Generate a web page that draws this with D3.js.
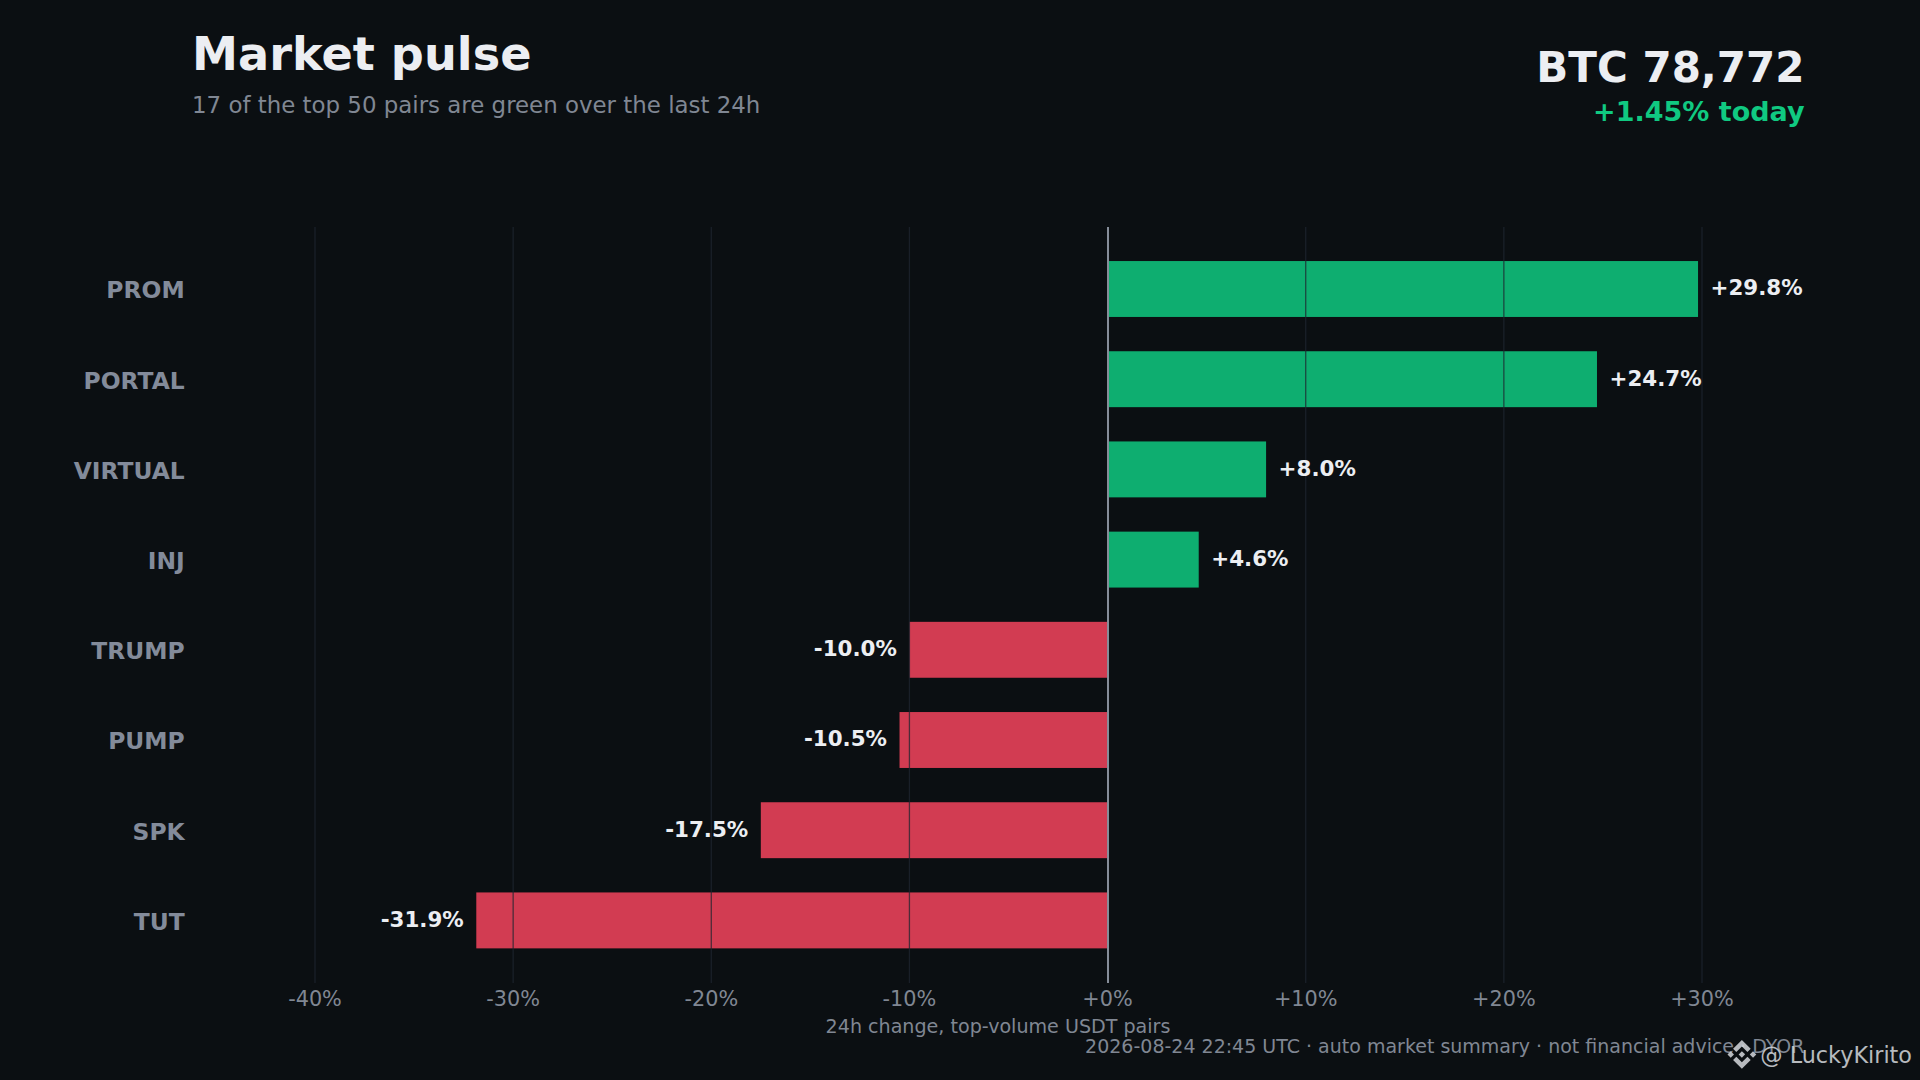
<!DOCTYPE html>
<html><head><meta charset="utf-8">
<script src="https://cdn.jsdelivr.net/npm/d3@7/dist/d3.min.js"></script>
<style>
html,body{margin:0;padding:0;background:#0b0f12;overflow:hidden}
svg{display:block}
text{font-family:"DejaVu Sans",sans-serif}
</style></head><body><svg id="c" width="1920" height="1080"></svg>
<script>
const symbols=["PROM","PORTAL","VIRTUAL","INJ","TRUMP","PUMP","SPK","TUT"];
const changes=[29.8,24.7,8.0,4.6,-10.0,-10.5,-17.5,-31.86];
const tickValues=[-40,-30,-20,-10,0,10,20,30];
const titleText="Market pulse";
const subtitleText="17 of the top 50 pairs are green over the last 24h";
const priceText="BTC 78,772";
const dayText="+1.45% today";
const axisTitle="24h change, top-volume USDT pairs";
const footerText="2026-08-24 22:45 UTC · auto market summary · not financial advice · DYOR";
const watermark="@ LuckyKirito";

const UP="#0eae70",DOWN="#d23c52",BG="#0b0f12",MUTED="#808793";
const svg=d3.select("#c");
svg.append("rect").attr("width",1920).attr("height",1080).attr("fill",BG);
const x=d3.scaleLinear().domain([-40,30]).range([315,1702]);
const y=d3.scaleBand().domain(symbols).range([243.9,965.5]).paddingInner(0.38).paddingOuter(0.19);
const gridTop=227,gridBottom=983;

svg.append("g").selectAll("rect").data(changes).join("rect")
  .attr("x",d=>Math.min(x(0),x(d))).attr("width",d=>Math.abs(x(d)-x(0)))
  .attr("y",(d,i)=>y(symbols[i])).attr("height",y.bandwidth())
  .attr("fill",d=>d>=0?UP:DOWN);

const fmt=d=>(d>=0?"+":"")+d+"%";
const ax=svg.append("g").attr("transform",`translate(0,${gridBottom})`)
  .call(d3.axisBottom(x).offset(0).tickValues(tickValues).tickFormat(fmt).tickSize(0).tickPadding(8));
ax.select(".domain").remove();
ax.selectAll("text").attr("fill",MUTED).attr("font-size",20.8).attr("dy","0.71em");
svg.append("g").selectAll("line").data(tickValues.filter(d=>d!==0)).join("line")
  .attr("x1",d=>x(d)).attr("x2",d=>x(d)).attr("y1",gridTop).attr("y2",gridBottom)
  .attr("stroke","#1f2630").attr("stroke-opacity",0.75).attr("stroke-width",1.3);
svg.append("line").attr("x1",Math.round(x(0))).attr("x2",Math.round(x(0))).attr("y1",gridTop).attr("y2",gridBottom)
  .attr("stroke","#868d99").attr("stroke-width",2);

const ay=svg.append("g").attr("transform","translate(184.7,0)")
  .call(d3.axisLeft(y).offset(0).tickSize(0).tickPadding(0));
ay.select(".domain").remove();
ay.selectAll("text").attr("fill","#838b9a").attr("font-size",23.4).attr("font-weight",700).attr("dy","0.4em");

svg.append("g").selectAll("text").data(changes).join("text")
  .attr("x",d=>x(d)+(d>=0?12.5:-12.5))
  .attr("y",(d,i)=>y(symbols[i])+y.bandwidth()/2-1.5)
  .attr("dy","0.37em")
  .attr("text-anchor",d=>d>=0?"start":"end")
  .attr("font-size",21.4).attr("font-weight",700).attr("fill","#eceef2")
  .text(d=>(d>=0?"+":"")+d.toFixed(1)+"%");

svg.append("text").attr("x",192).attr("y",70).attr("font-size",46.2).attr("font-weight",700).attr("fill","#eceef2").text(titleText);
svg.append("text").attr("x",192).attr("y",113).attr("font-size",22.9).attr("fill",MUTED).text(subtitleText);
svg.append("text").attr("x",1804.5).attr("y",82).attr("text-anchor","end").attr("font-size",42).attr("font-weight",700).attr("fill","#eceef2").text(priceText);
svg.append("text").attr("x",1804.5).attr("y",121).attr("text-anchor","end").attr("font-size",27).attr("font-weight",700).attr("fill","#10c981").text(dayText);
svg.append("text").attr("x",998).attr("y",1033).attr("text-anchor","middle").attr("font-size",19.1).attr("fill",MUTED).text(axisTitle);
svg.append("text").attr("x",1804.5).attr("y",1053).attr("text-anchor","end").attr("font-size",19).attr("fill",MUTED).text(footerText);

const wm=svg.append("g").attr("opacity",0.85);
wm.append("path").attr("transform","translate(1727.5,1040) scale(1.2)").attr("fill","#d5d8dd")
 .attr("d","M16.624 13.9202l2.7175 2.7154-7.353 7.353-7.353-7.352 2.7175-2.7164 4.6355 4.6595 4.6356-4.6595zm4.6366-4.6366L24 12l-2.7154 2.7164L18.5682 12l2.6924-2.7164zm-9.272.001l2.7163 2.6914-2.7164 2.7174v-.001L9.2721 12l2.7164-2.7154zm-9.2722-.001L5.4088 12l-2.6914 2.6924L0 12l2.7164-2.7164zM11.9885.0115l7.353 7.329-2.7174 2.7154-4.6356-4.6356-4.6355 4.6595-2.7174-2.7154 7.353-7.353z");
wm.append("text").attr("x",1912).attr("y",1063).attr("text-anchor","end").attr("font-size",22.3).attr("fill","#d5d8dd").text(watermark);
</script></body></html>
